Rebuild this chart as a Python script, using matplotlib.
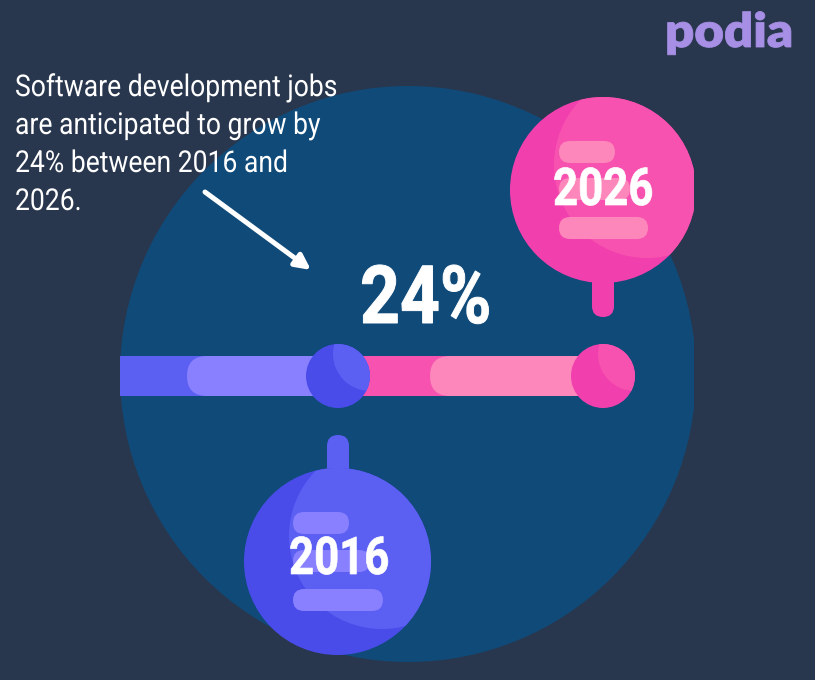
import matplotlib
matplotlib.use("Agg")
import matplotlib.pyplot as plt
from matplotlib.patches import Circle, Rectangle, FancyBboxPatch
from matplotlib.patheffects import AbstractPathEffect
from matplotlib.transforms import Affine2D

years = [2016, 2026]
year_labels = ["2016", "2026"]
growth_label = "24%"
caption_lines = ["Software development jobs", "are anticipated to grow by",
                 "24% between 2016 and", "2026."]
brand = "podia"

BG, BIG = "#29374E", "#0F4A79"
PAL = {2016: dict(base="#5B5FF2", dark="#4A4CEA", light="#8880FF"),
       2026: dict(base="#F752AF", dark="#F23FAE", light="#FD86BB")}


class Stretch(AbstractPathEffect):
    """Scale a text's glyphs horizontally about its left edge (no condensed face installed)."""
    def __init__(self, sx, stroke=0):
        super().__init__()
        self.sx, self.stroke = sx, stroke

    def draw_path(self, renderer, gc, tpath, affine, rgbFace=None):
        x0 = affine.get_matrix()[0, 2]
        a = affine + Affine2D().translate(-x0, 0).scale(self.sx, 1).translate(x0, 0)
        g = renderer.new_gc()
        g.copy_properties(gc)
        if self.stroke:
            g.set_linewidth(self.stroke)
            g.set_foreground(rgbFace)
            g.set_joinstyle("round")
        renderer.draw_path(g, tpath, a, rgbFace)
        g.restore()


fig = plt.figure(figsize=(8.15, 6.8), dpi=100, facecolor=BG)
ax = fig.add_axes([0, 0, 1, 1])
ax.set_xlim(0, 815); ax.set_ylim(680, 0); ax.axis("off")


def xpos(year):
    return 338 + (year - years[0]) * 26.5


def pill(x0, x1, y0, y1, color, z):
    r = min(x1 - x0, y1 - y0) / 2
    p = FancyBboxPatch((x0, y0), x1 - x0, y1 - y0,
                       boxstyle=f"round,pad=0,rounding_size={r}",
                       fc=color, ec="none", zorder=z)
    ax.add_patch(p)
    return p


ax.add_patch(Circle((408, 374), 288, fc=BIG, ec="none", zorder=1))

# timeline
ax.add_patch(Rectangle((120, 356), xpos(2016) - 120, 40, fc=PAL[2016]["base"], ec="none", zorder=2))
ax.add_patch(Rectangle((xpos(2016), 356), xpos(2026) - xpos(2016), 40, fc=PAL[2026]["base"], ec="none", zorder=2))
pill(187, 345, 356, 396, PAL[2016]["light"], 3)
pill(430, 600, 356, 396, PAL[2026]["light"], 3)

# small markers
for yr, hl in zip(years, [(370, 354, 37), (635, 354, 37)]):
    m = Circle((xpos(yr), 376), 32, fc=PAL[yr]["dark"], ec="none", zorder=4)
    ax.add_patch(m)
    h = Circle(hl[:2], hl[2], fc=PAL[yr]["base"], ec="none", zorder=5)
    ax.add_patch(h); h.set_clip_path(m)

# balloons
balloons = {2016: dict(c=(337.5, 561.5), r=93.5, hl=(382, 536, 93), stem=(327, 349, 435, 490),
                       text=(289, 560),
                       pills=[(293, 349, 512, 534), (293, 370, 550, 572), (293, 383, 589, 611)]),
            2026: dict(c=(603, 190), r=93, hl=(647, 165, 93), stem=(592, 614, 260, 317),
                       text=(553, 191),
                       pills=[(559, 615, 141, 163), (559, 630, 178, 200), (559, 648, 217, 239)])}
for yr, lab in zip(years, year_labels):
    b = balloons[yr]; col = PAL[yr]
    pill(*b["stem"], col["base"] if yr == 2016 else col["dark"], 4)
    ball = Circle(b["c"], b["r"], fc=col["dark"], ec="none", zorder=5)
    ax.add_patch(ball)
    h = Circle(b["hl"][:2], b["hl"][2], fc=col["base"], ec="none", zorder=6)
    ax.add_patch(h); h.set_clip_path(ball)
    for p in b["pills"]:
        pill(*p, col["light"], 7)
    ax.text(b["text"][0], b["text"][1], lab, color="white", fontsize=37.5, fontweight="bold",
            family="Roboto", ha="left", va="center", zorder=8, path_effects=[Stretch(0.84, stroke=0.5)])

# the reference's artwork is cut off at this edge
ax.add_patch(Rectangle((694, 0), 121, 680, fc=BG, ec="none", zorder=7.5))

ax.text(360, 301, growth_label, color="white", fontsize=58, fontweight="bold", family="Roboto",
        ha="left", va="center", zorder=8, path_effects=[Stretch(0.865, stroke=0.7)])

for i, line in enumerate(caption_lines):
    ax.text(15, 88 + i * 38, line, color="white", fontsize=21.7, family="Roboto",
            ha="left", va="center", zorder=9, path_effects=[Stretch(0.88)])

ax.annotate("", xy=(311, 270), xytext=(205, 192), zorder=9,
            arrowprops=dict(arrowstyle="-|>,head_length=0.9,head_width=0.45", color="white",
                            lw=3.6, shrinkA=0, shrinkB=0))

ax.text(665, 33, brand, color="#A78FE6", fontsize=34, fontweight="heavy", family="Lato",
        ha="left", va="center", zorder=9, path_effects=[Stretch(1.08, stroke=0.6)])

fig.savefig("out.png", dpi=100, facecolor=BG)
